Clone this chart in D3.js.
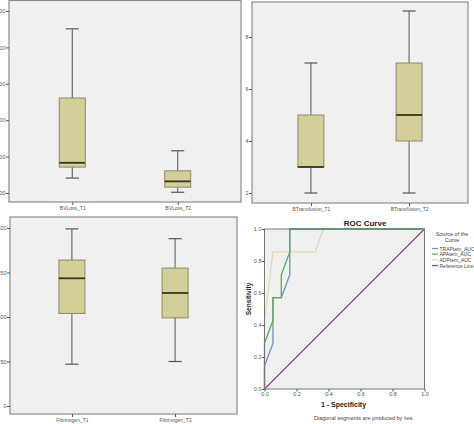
<!DOCTYPE html>
<html>
<head>
<meta charset="utf-8">
<script src="https://cdn.jsdelivr.net/npm/d3@7"></script>
<style>
  body { margin: 0; background: #fff; }
  text { font-family: "Liberation Sans", Arial, sans-serif; }
</style>
</head>
<body>
<svg id="chart" width="474" height="424"></svg>
<script>
// box plot data: [whisker low, q1, median, q3, whisker high]
var lossCats = ['BVLoss_T1', 'BVLoss_T2'];
var lossBoxes = [[141, 171, 183, 361, 551], [102, 116, 132, 161, 216]];
var lossTicks = [100, 200, 300, 400, 500, 600];

var transCats = ['BTransfusion_T1', 'BTransfusion_T2'];
var transBoxes = [[2, 3, 3, 5, 7], [2, 4, 5, 7, 9]];
var transTicks = [2, 4, 6, 8];

var fibCats = ['Fibrinogen_T1', 'Fibrinogen_T2'];
var fibBoxes = [[47, 104, 143.5, 164, 199], [50, 99, 127, 155, 188]];
var fibTicks = [0, 50, 100, 150, 200];

// ROC curves: [1 - specificity, sensitivity]
var rocNames = ['TRAPtem_AUC', 'APAtem_AUC', 'ADPtem_AUC', 'Reference Line'];
var rocColors = ['#6f8fc4', '#54b04f', '#e3d9a6', '#8e3f8e'];
var trapRoc = [[0, 0], [0, 0.143], [0.053, 0.286], [0.053, 0.571], [0.105, 0.571], [0.158, 0.714], [0.158, 1], [1, 1]];
var apaRoc = [[0, 0], [0, 0.286], [0.053, 0.429], [0.053, 0.571], [0.105, 0.571], [0.105, 0.714], [0.158, 0.857], [0.158, 1], [1, 1]];
var adpRoc = [[0, 0], [0, 0.429], [0.053, 0.857], [0.316, 0.857], [0.368, 1], [1, 1]];
var refRoc = [[0, 0], [1, 1]];
var rocTicks = [0, 0.2, 0.4, 0.6, 0.8, 1.0];

var svg = d3.select('#chart');

var drawBoxPanel = function(opt) {
  var g = svg.append('g');
  var x = d3.scalePoint().domain(opt.cats).range([opt.left, opt.right]).padding(0.6);
  var y = d3.scaleLinear().domain(opt.domain).range(opt.yRange);
  g.append('rect')
    .attr('x', opt.left).attr('y', opt.top)
    .attr('width', opt.right - opt.left).attr('height', opt.bottom - opt.top)
    .style('fill', '#f0f0f0').style('stroke', '#8c8c8c').style('stroke-width', 1.2);
  var yAxis = g.append('g').attr('transform', 'translate(' + opt.left + ',0)')
    .call(d3.axisLeft(y).tickValues(opt.ticks).tickSize(3).tickFormat(d3.format('d')));
  yAxis.select('.domain').remove();
  yAxis.selectAll('line').style('stroke', '#555');
  yAxis.selectAll('text').style('font-size', '5.5px').style('fill', '#555').attr('x', -3.5);
  var xAxis = g.append('g').attr('transform', 'translate(0,' + opt.bottom + ')')
    .call(d3.axisBottom(x).tickSize(3));
  xAxis.select('.domain').remove();
  xAxis.selectAll('line').style('stroke', '#555');
  xAxis.selectAll('text').style('font-size', '5px').style('fill', '#555').attr('y', 4);
  var bw = 26;
  var boxes = g.selectAll('.box').data(opt.boxes).enter().append('g').classed('box', true)
    .attr('transform', function(d, i) { return 'translate(' + x(opt.cats[i]) + ',0)'; });
  boxes.append('line')
    .attr('y1', function(d) { return y(d[0]); }).attr('y2', function(d) { return y(d[4]); })
    .style('stroke', '#555').style('stroke-width', 1);
  boxes.selectAll('.cap').data(function(d) { return [d[0], d[4]]; }).enter().append('line')
    .attr('x1', -6.5).attr('x2', 6.5)
    .attr('y1', function(v) { return y(v); }).attr('y2', function(v) { return y(v); })
    .style('stroke', '#555').style('stroke-width', 1.2);
  boxes.append('rect')
    .attr('x', -bw / 2).attr('width', bw)
    .attr('y', function(d) { return y(d[3]); })
    .attr('height', function(d) { return y(d[1]) - y(d[3]); })
    .style('fill', '#d3cf98').style('stroke', '#8d8a66').style('stroke-width', 1);
  boxes.append('line')
    .attr('x1', -bw / 2).attr('x2', bw / 2)
    .attr('y1', function(d) { return y(d[2]); }).attr('y2', function(d) { return y(d[2]); })
    .style('stroke', '#3a3420').style('stroke-width', 1.8);
};

drawBoxPanel({cats: lossCats, boxes: lossBoxes, ticks: lossTicks, domain: [100, 600], yRange: [193, 11],
  left: 9, right: 241, top: 0.5, bottom: 202});
drawBoxPanel({cats: transCats, boxes: transBoxes, ticks: transTicks, domain: [2, 8], yRange: [193, 37],
  left: 252, right: 468, top: 2, bottom: 203});
drawBoxPanel({cats: fibCats, boxes: fibBoxes, ticks: fibTicks, domain: [0, 200], yRange: [406, 228],
  left: 10, right: 237, top: 217, bottom: 414});

// ROC panel
var rx = d3.scaleLinear().domain([0, 1]).range([264.5, 424.5]);
var ry = d3.scaleLinear().domain([0, 1]).range([389, 229]);
var roc = svg.append('g');
roc.append('rect').attr('x', 246).attr('y', 215).attr('width', 228).attr('height', 209).style('fill', '#fff');
roc.append('rect')
  .attr('x', rx(0)).attr('y', ry(1)).attr('width', rx(1) - rx(0)).attr('height', ry(0) - ry(1))
  .style('fill', '#f0f0f0');
var line = d3.line().x(function(d) { return rx(d[0]); }).y(function(d) { return ry(d[1]); });
roc.selectAll('.curve').data([refRoc, adpRoc, trapRoc, apaRoc]).enter().append('path')
  .attr('d', line)
  .style('fill', 'none')
  .style('stroke', function(d, i) { return [rocColors[3], rocColors[2], rocColors[0], rocColors[1]][i]; })
  .style('stroke-width', 1.3);
roc.append('rect')
  .attr('x', rx(0)).attr('y', ry(1)).attr('width', rx(1) - rx(0)).attr('height', ry(0) - ry(1))
  .style('fill', 'none').style('stroke', '#777').style('stroke-width', 1);
var rxAxis = roc.append('g').attr('transform', 'translate(0,' + ry(0) + ')')
  .call(d3.axisBottom(rx).tickValues(rocTicks).tickSize(2.5).tickFormat(d3.format('.1f')));
rxAxis.select('.domain').remove();
rxAxis.selectAll('line').style('stroke', '#555');
rxAxis.selectAll('text').style('font-size', '5.5px').style('fill', '#555').attr('y', 3.5);
var ryAxis = roc.append('g').attr('transform', 'translate(' + rx(0) + ',0)')
  .call(d3.axisLeft(ry).tickValues(rocTicks).tickSize(2.5).tickFormat(d3.format('.1f')));
ryAxis.select('.domain').remove();
ryAxis.selectAll('line').style('stroke', '#555');
ryAxis.selectAll('text').style('font-size', '5.5px').style('fill', '#555').attr('x', -3);

roc.append('text').attr('x', 365).attr('y', 226).attr('text-anchor', 'middle')
  .style('font-size', '8px').style('font-weight', 'bold').style('fill', '#222').text('ROC Curve');
roc.append('text').attr('x', 343.5).attr('y', 407).attr('text-anchor', 'middle')
  .style('font-size', '7px').style('font-weight', 'bold').style('fill', '#222').text('1 - Specificity');
roc.append('text').attr('x', 364).attr('y', 420).attr('text-anchor', 'middle')
  .style('font-size', '5.5px').style('fill', '#444').text('Diagonal segments are produced by ties.');
roc.append('text').attr('transform', 'translate(251,299) rotate(-90)').attr('text-anchor', 'middle')
  .style('font-size', '6.5px').style('font-weight', 'bold').style('fill', '#222').text('Sensitivity');

// legend
var legend = roc.append('g');
legend.selectAll('.ltitle').data(['Source of the', 'Curve']).enter().append('text')
  .attr('x', 452).attr('y', function(d, i) { return 236 + i * 5.5; })
  .attr('text-anchor', 'middle')
  .style('font-size', '5.5px').style('fill', '#444').text(function(d) { return d; });
var items = legend.selectAll('.item').data(rocNames).enter().append('g')
  .attr('transform', function(d, i) { return 'translate(432,' + (248.5 + i * 5.7) + ')'; });
items.append('line').attr('x1', 0).attr('x2', 6)
  .style('stroke', function(d, i) { return rocColors[i]; }).style('stroke-width', 1.2);
items.append('text').attr('x', 7.5).attr('y', 2)
  .style('font-size', '5px').style('fill', '#444').text(function(d) { return d; });
</script>
</body>
</html>
